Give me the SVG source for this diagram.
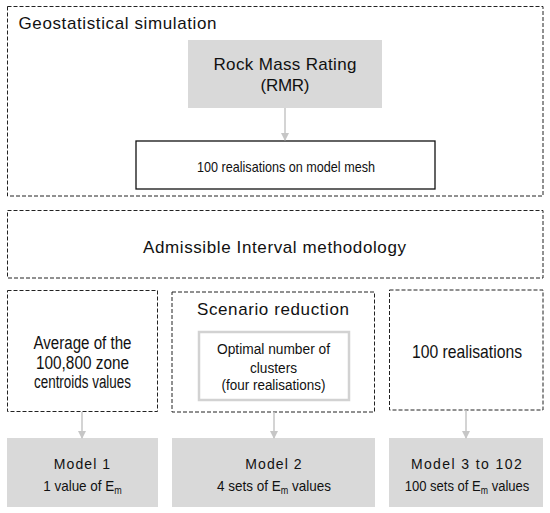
<svg xmlns="http://www.w3.org/2000/svg" width="550" height="513" viewBox="0 0 550 513">
<style>
  .dash{fill:none;stroke:#222;stroke-width:1;stroke-dasharray:4 2}
  .gray{fill:#d9d9d9;stroke:none}
  .t{font-family:"Liberation Sans",Arial,sans-serif;fill:#111;text-anchor:middle}
  .lg{font-size:17px}
  .cl{font-size:18px}
  .md{font-size:15.5px}
  .sm{font-size:14px}
  .em{font-size:15px}
  .conn{stroke:#c6c6c6;stroke-width:1.5;fill:none;marker-end:url(#ah)}
</style>
<defs>
  <marker id="ah" markerWidth="8" markerHeight="8" refX="7" refY="4" orient="auto" markerUnits="userSpaceOnUse">
    <path d="M0,0 L8,4 L0,8 Z" fill="#c6c6c6"/>
  </marker>
</defs>
<rect width="550" height="513" fill="#fff"/>

<g id="geostatistical-simulation">
  <rect class="dash" x="7.5" y="6.5" width="535.5" height="189.5"/>
  <text class="t lg" x="117.5" y="29" textLength="198">Geostatistical simulation</text>
</g>
<g id="rmr">
  <rect class="gray" x="188" y="40" width="194" height="68"/>
  <text class="t lg" x="285" y="70" textLength="143">Rock Mass Rating</text>
  <text class="t lg" x="285" y="91" textLength="49">(RMR)</text>
</g>
<g id="realisations-mesh">
  <rect x="136" y="141" width="299" height="48" fill="#fff" stroke="#111" stroke-width="1.3"/>
  <text class="t" font-size="14.5" x="286" y="171.5" textLength="178" lengthAdjust="spacingAndGlyphs">100 realisations on model mesh</text>
</g>
<g id="admissible-interval">
  <rect class="dash" x="7.5" y="210.5" width="535.5" height="67.5"/>
  <text class="t lg" x="274.5" y="253" textLength="263">Admissible Interval methodology</text>
</g>
<g id="average">
  <rect class="dash" x="7.5" y="290.5" width="150" height="121"/>
  <text class="t cl" x="82.5" y="349" textLength="98" lengthAdjust="spacingAndGlyphs">Average of the</text>
  <text class="t cl" x="82.5" y="369" textLength="93" lengthAdjust="spacingAndGlyphs">100,800 zone</text>
  <text class="t cl" x="82.5" y="388" textLength="97" lengthAdjust="spacingAndGlyphs">centroids values</text>
</g>
<g id="scenario-reduction">
  <rect class="dash" x="172" y="292" width="202.5" height="120"/>
  <text class="t lg" x="273" y="315" textLength="152">Scenario reduction</text>
</g>
<g id="optimal-clusters">
  <rect x="199" y="332" width="150" height="68" fill="#fff" stroke="#d2d2d2" stroke-width="2.5"/>
  <text class="t md" x="273.5" y="354" textLength="113" lengthAdjust="spacingAndGlyphs">Optimal number of</text>
  <text class="t md" x="273.5" y="373" textLength="47" lengthAdjust="spacingAndGlyphs">clusters</text>
  <text class="t md" x="273.5" y="390" textLength="104" lengthAdjust="spacingAndGlyphs">(four realisations)</text>
</g>
<g id="realisations-100">
  <rect class="dash" x="389.5" y="290" width="153.5" height="120"/>
  <text class="t" font-size="18.5" x="467" y="358" textLength="110" lengthAdjust="spacingAndGlyphs">100 realisations</text>
</g>
<g id="model-1">
  <rect class="gray" x="7" y="438" width="151" height="69"/>
  <text class="t sm" x="82.5" y="469" letter-spacing="1.1">Model 1</text>
  <text class="t em" transform="translate(82.5,491) scale(0.9,1)">1 value of E<tspan font-size="10" dy="3">m</tspan></text>
</g>
<g id="model-2">
  <rect class="gray" x="172" y="438" width="203" height="69"/>
  <text class="t sm" x="274" y="469" letter-spacing="1.1">Model 2</text>
  <text class="t em" transform="translate(274,491) scale(0.9,1)">4 sets of E<tspan font-size="10" dy="3">m</tspan><tspan dy="-3"> values</tspan></text>
</g>
<g id="model-3-102">
  <rect class="gray" x="389" y="438" width="154" height="69"/>
  <text class="t sm" x="467" y="469" letter-spacing="1.4">Model 3 to 102</text>
  <text class="t em" transform="translate(467,491) scale(0.87,1)">100 sets of E<tspan font-size="10" dy="3">m</tspan><tspan dy="-3"> values</tspan></text>
</g>

<g id="connectors">
  <line class="conn" x1="285" y1="108" x2="285" y2="140"/>
  <line class="conn" x1="82" y1="412" x2="82" y2="438"/>
  <line class="conn" x1="274" y1="412" x2="274" y2="438"/>
  <line class="conn" x1="466" y1="410" x2="466" y2="438"/>
</g>
</svg>
